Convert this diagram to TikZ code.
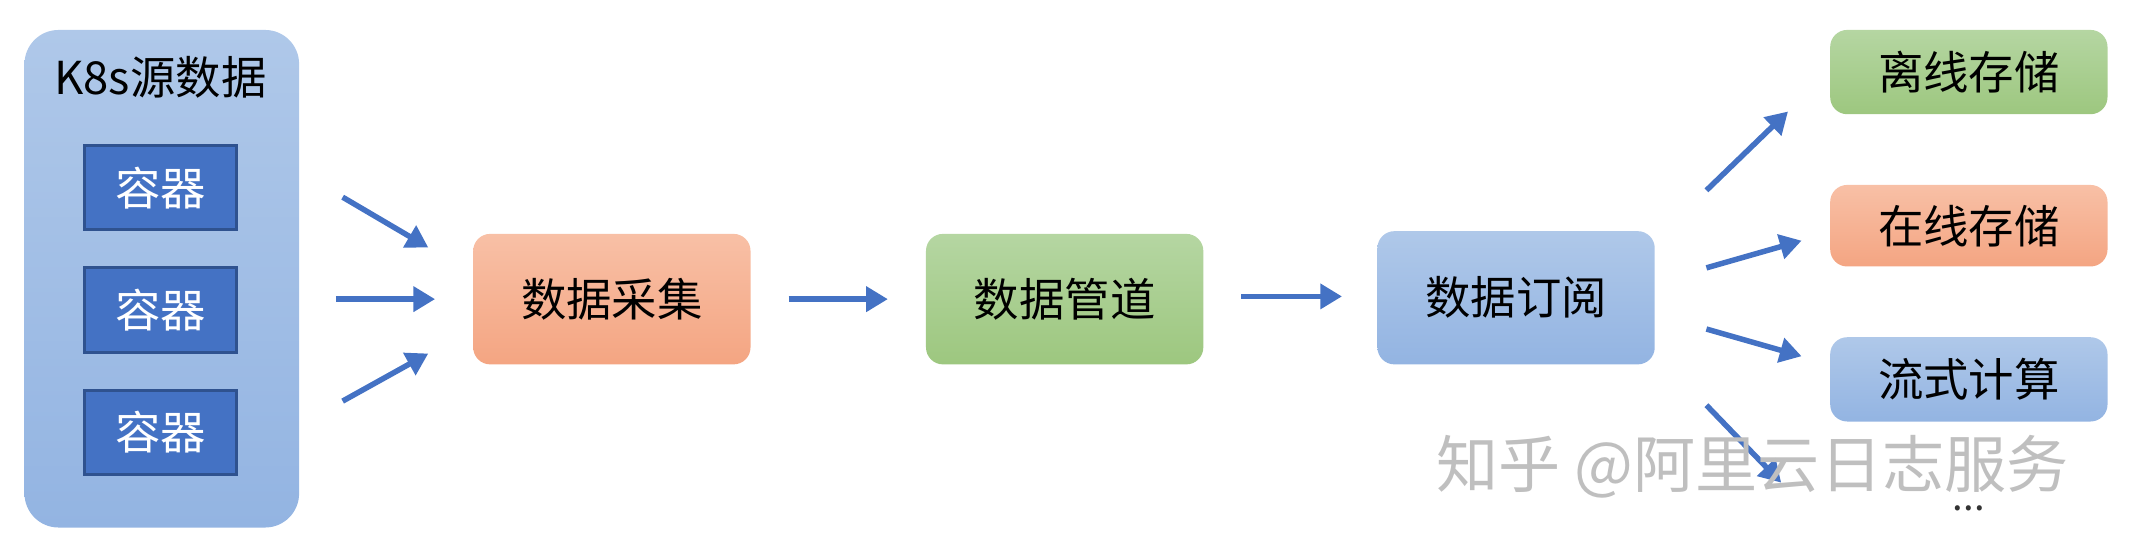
\documentclass[tikz,border=0pt]{standalone}
\usepackage{fontspec}
\setmainfont{Noto Sans CJK SC}
\usetikzlibrary{arrows.meta}
\definecolor{ablue}{HTML}{4472C4}
\definecolor{bluet}{RGB}{175,200,233}
\definecolor{blueb}{RGB}{147,180,226}
\definecolor{orat}{RGB}{248,192,166}
\definecolor{orab}{RGB}{244,165,130}
\definecolor{grt}{RGB}{181,214,162}
\definecolor{grb}{RGB}{157,199,127}
\definecolor{contb}{RGB}{47,82,143}
\begin{document}
\begin{tikzpicture}[x=0.02cm,y=-0.02cm,
  blk/.style={rounded corners=0.25cm,inner sep=0pt,font=\fontsize{19}{22}\selectfont},
  bluebox/.style={blk,top color=bluet,bottom color=blueb},
  orangebox/.style={blk,top color=orat,bottom color=orab},
  greenbox/.style={blk,top color=grt,bottom color=grb},
  cont/.style={draw=contb,line width=1.2pt,fill=ablue,text=white,inner sep=0pt,minimum width=2.24cm,minimum height=1.24cm,font=\fontsize{19}{22}\selectfont},
  arr/.style={draw=ablue,line width=2.3pt,-{Triangle[length=0.32cm,width=0.36cm]}}]
\useasboundingbox (0,0) rectangle (1568,409);
\node[bluebox,rounded corners=0.5cm,minimum width=4.04cm,minimum height=7.32cm] (k8s) at (119,205) {};
\node[font=\fontsize{19}{22}\selectfont] (k8st) at (118,57) {K8s源数据};
\node[cont] (c1) at (118,138) {容器};
\node[cont] (c2) at (118,228) {容器};
\node[cont] (c3) at (118,318) {容器};
\node[orangebox,minimum width=4.08cm,minimum height=1.92cm] (cj) at (450,220) {数据采集};
\node[greenbox,minimum width=4.08cm,minimum height=1.92cm] (gd) at (783,220) {数据管道};
\node[bluebox,minimum width=4.08cm,minimum height=1.96cm] (dy) at (1115,219) {数据订阅};
\node[greenbox,minimum width=4.08cm,minimum height=1.24cm] (lx) at (1448,53) {离线存储};
\node[orangebox,minimum width=4.08cm,minimum height=1.2cm] (zx) at (1448,166) {在线存储};
\node[bluebox,minimum width=4.08cm,minimum height=1.24cm] (ls) at (1448,279) {流式计算};
\coordinate (a1s) at (252,145); \coordinate (a1e) at (315,182);
\coordinate (a2s) at (247,220); \coordinate (a2e) at (320,220);
\coordinate (a3s) at (252,295); \coordinate (a3e) at (315,260);
\coordinate (b1s) at (580,220); \coordinate (b1e) at (653,220);
\coordinate (b2s) at (913,218); \coordinate (b2e) at (987,218);
\coordinate (d1s) at (1255,140); \coordinate (d1e) at (1315,82);
\coordinate (d2s) at (1255,197); \coordinate (d2e) at (1325,177);
\coordinate (d3s) at (1255,242); \coordinate (d3e) at (1325,262);
\coordinate (d4s) at (1255,298); \coordinate (d4e) at (1310,355);
\draw[arr] (a1s) -- (a1e);
\draw[arr] (a2s) -- (a2e);
\draw[arr] (a3s) -- (a3e);
\draw[arr] (b1s) -- (b1e);
\draw[arr] (b2s) -- (b2e);
\draw[arr] (d1s) -- (d1e);
\draw[arr] (d2s) -- (d2e);
\draw[arr] (d3s) -- (d3e);
\draw[arr] (d4s) -- (d4e);
\node[font=\fontsize{16}{18}\selectfont,text=black!80,inner sep=0pt] (dots) at (1448,374) {...};
\node[font=\fontsize{26}{30}\selectfont,text=black!25,inner sep=0pt] (wm) at (1289,343) {知乎 @阿里云日志服务};
\end{tikzpicture}
\end{document}
